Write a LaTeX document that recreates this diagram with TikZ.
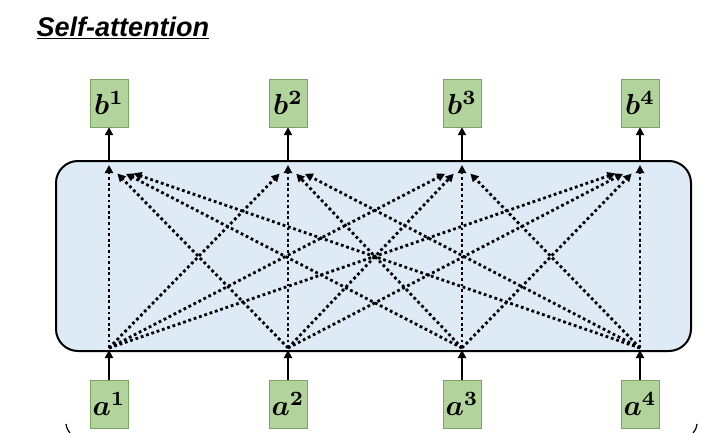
\documentclass[tikz,border=0pt]{standalone}
\usepackage{fontspec}
\newfontfamily\titlefont{Liberation Sans}
\usetikzlibrary{arrows.meta}
\definecolor{vecfill}{RGB}{178,212,156}
\definecolor{vecdraw}{RGB}{120,165,100}
\definecolor{boxfill}{RGB}{222,234,246}
\begin{document}
\begin{tikzpicture}[x=1pt,y=-1pt,
  vec/.style={draw=vecdraw,fill=vecfill,minimum width=38pt,minimum height=48pt,inner sep=0pt},
  solidarr/.style={-{Triangle[length=8pt,width=8pt]},line width=2.8pt},
  dotarr/.style={-{Triangle[length=8pt,width=8pt]},line width=2.8pt,dash pattern=on 2.8pt off 2.8pt}]
\useasboundingbox (0,0) rectangle (701,433);
\node[anchor=west,font=\titlefont\bfseries\itshape\fontsize{27}{30}\selectfont] (title) at (33,28) {\underline{Self-attention}};
\node[draw,line width=2pt,rounded corners=22pt,fill=boxfill,minimum width=635pt,minimum height=190pt,anchor=north west] (box) at (55,160) {};
\foreach \i/\x in {1/109,2/288,3/462,4/640}{
  \node[vec] (b\i) at (\x,103) {\scalebox{2.9}{\boldmath$b^{\i}$}};
  \node[vec] (a\i) at (\x,404) {\scalebox{2.9}{\boldmath$a^{\i}$}};
  \coordinate (t\i) at (\x,165);
  \coordinate (s\i) at (\x,348);
  \coordinate (tt\i) at (\x,160);
  \coordinate (bb\i) at (\x,350);
  \draw[solidarr] (tt\i) -- (b\i.south);
  \draw[solidarr] (a\i.north) -- (bb\i);
}
\foreach \i in {1,...,4}{\foreach \j in {1,...,4}{
  \pgfmathsetmacro{\sh}{\i==\j ? 0 : 5+7*abs(\i-\j)}
  \draw[dotarr,shorten >=\sh pt] (s\i) -- (t\j);
}}
\coordinate (l1) at (66,424); \coordinate (l2) at (70,433);
\coordinate (r1) at (697,424); \coordinate (r2) at (693,433);
\draw[line width=1.2pt] (l1) to[bend right=15] (l2);
\draw[line width=1.2pt] (r1) to[bend left=15] (r2);
\end{tikzpicture}
\end{document}
